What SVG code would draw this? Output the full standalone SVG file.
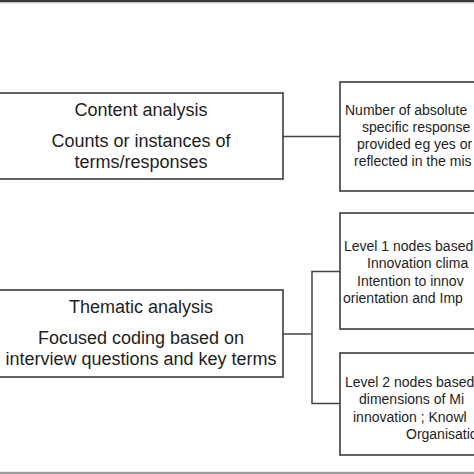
<svg xmlns="http://www.w3.org/2000/svg" width="474" height="474" viewBox="0 0 474 474">
<style>
.box{fill:#fff;stroke:#3c3c3c;stroke-width:1.6}
.ln{fill:none;stroke:#444;stroke-width:1.5}
.big{font-family:"Liberation Sans",Arial,sans-serif;font-size:18px;fill:#1e1e1e;text-anchor:middle}
.sm{font-family:"Liberation Sans",Arial,sans-serif;font-size:14px;fill:#1e1e1e}
</style>
<rect x="0" y="0" width="474" height="474" fill="#fff"/>
<rect x="0" y="0" width="474" height="2.3" fill="#383838"/>
<rect x="0" y="2.3" width="474" height="1" fill="#c4c4c4"/>
<rect x="0" y="471.8" width="474" height="2.2" fill="#9b9b9b"/>
<g id="connectors">
<line class="ln" x1="283" y1="136.5" x2="340" y2="136.5"/>
<line class="ln" x1="283" y1="334" x2="312" y2="334"/>
<polyline class="ln" points="340,271.5 312,271.5 312,403.5 340,403.5"/>
</g>
<g id="content-analysis">
<rect class="box" x="-5" y="93" width="288" height="86"/>
<text class="big" x="141" y="116">Content analysis</text>
<text class="big" x="141" y="146.5">Counts or instances of</text>
<text class="big" x="141" y="168">terms/responses</text>
</g>
<g id="content-result">
<rect class="box" x="340" y="82" width="150" height="109"/>
<text class="sm" x="345" y="114.5">Number of absolute</text>
<text class="sm" x="362" y="131.5">specific response</text>
<text class="sm" x="357" y="148.5">provided eg yes or</text>
<text class="sm" x="354" y="165.5">reflected in the mis</text>
</g>
<g id="thematic-analysis">
<rect class="box" x="-5" y="290" width="288" height="87"/>
<text class="big" x="141" y="313">Thematic analysis</text>
<text class="big" x="141" y="343.5">Focused coding based on</text>
<text class="big" x="141" y="365">interview questions and key terms</text>
</g>
<g id="level1">
<rect class="box" x="340" y="213" width="150" height="116"/>
<text class="sm" x="344" y="250.5">Level 1 nodes based</text>
<text class="sm" x="367" y="268">Innovation clima</text>
<text class="sm" x="357" y="285.5">Intention to innov</text>
<text class="sm" x="343" y="303">orientation and Imp</text>
</g>
<g id="level2">
<rect class="box" x="340" y="353" width="150" height="102"/>
<text class="sm" x="345" y="386.5">Level 2 nodes based</text>
<text class="sm" x="359" y="404">dimensions of Mi</text>
<text class="sm" x="353" y="421.5">innovation ; Knowl</text>
<text class="sm" x="406" y="439">Organisatio</text>
</g>
</svg>
